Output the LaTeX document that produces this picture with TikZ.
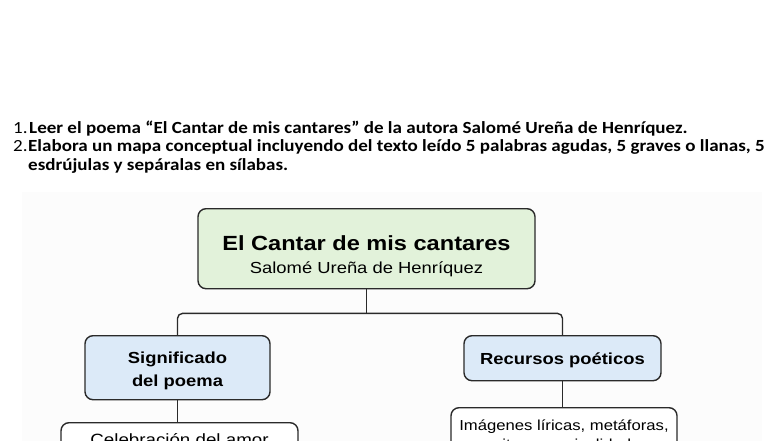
\documentclass[tikz,border=0pt]{standalone}
\usepackage{fontspec}
\setmainfont[FakeStretch=1.12]{Carlito}
\newfontfamily\mapfont[FakeStretch=1.15]{Liberation Sans}
\usepackage{tikz}

\definecolor{titlegreen}{HTML}{E2F2DA}
\definecolor{nodeblue}{HTML}{DCEAF8}
\definecolor{edgegray}{HTML}{2A2A2A}

\begin{document}
\begin{tikzpicture}[x=1pt,y=-1pt,
  box/.style={draw=edgegray,line width=1.4pt,rounded corners=8pt,align=center,anchor=north,inner ysep=0pt},
  link/.style={draw=edgegray,line width=1.4pt}]
  \useasboundingbox (0,0) rectangle (784,441);
  \fill[gray!2] (22,192) rectangle (762,441);

  % instrucciones
  \node[anchor=base west,inner sep=0,font=\fontsize{17}{18.5}\selectfont] (num1) at (13,133) {1.};
  \node[anchor=base west,inner sep=0,font=\fontsize{17}{18.5}\selectfont\bfseries] (inst1) at (29,133)
    {Leer el poema “El Cantar de mis cantares” de la autora Salomé Ureña de Henríquez.};
  \node[anchor=base west,inner sep=0,font=\fontsize{17}{18.5}\selectfont] (num2) at (13,151.5) {2.};
  \node[anchor=base west,inner sep=0,align=left,font=\fontsize{17}{18.5}\selectfont\bfseries] (inst2) at (28,170)
    {Elabora un mapa conceptual incluyendo del texto leído 5 palabras agudas, 5 graves o llanas, 5\\esdrújulas y sepáralas en sílabas.};

  % mapa conceptual
  \node[box,fill=titlegreen,minimum width=337pt,text height=65pt,text depth=15pt,font=\mapfont\fontsize{16}{23}\selectfont] (title) at (366.5,208)
    {{\fontsize{20.5}{23}\selectfont\bfseries El Cantar de mis cantares}\\Salomé Ureña de Henríquez};
  \node[box,fill=nodeblue,minimum width=185pt,text height=51pt,text depth=13pt,font=\mapfont\bfseries\fontsize{16}{23}\selectfont] (sig) at (177.5,335)
    {Significado\\del poema};
  \node[box,fill=nodeblue,minimum width=197pt,text height=29pt,text depth=16pt,font=\mapfont\bfseries\fontsize{16}{23}\selectfont] (rec) at (562.5,335)
    {Recursos poéticos};
  \node[box,fill=white,minimum width=237pt,text height=23pt,text depth=40pt,font=\mapfont\fontsize{16.3}{19}\selectfont] (cel) at (179.5,422)
    {Celebración del amor};
  \node[box,fill=white,minimum width=226pt,text height=42pt,text depth=20pt,font=\mapfont\fontsize{14.5}{19}\selectfont] (ima) at (564,407)
    {Imágenes líricas, metáforas,\\ritmo, musicalidad};

  % conectores
  \draw[link] (title.south) -- ++(0,24) coordinate (bus);
  \draw[link,rounded corners=5pt] (sig.north) |- (bus) -| (rec.north);
  \draw[link] (sig.south) -- (sig.south |- cel.north);
  \draw[link] (rec.south) -- (rec.south |- ima.north);
\end{tikzpicture}
\end{document}
